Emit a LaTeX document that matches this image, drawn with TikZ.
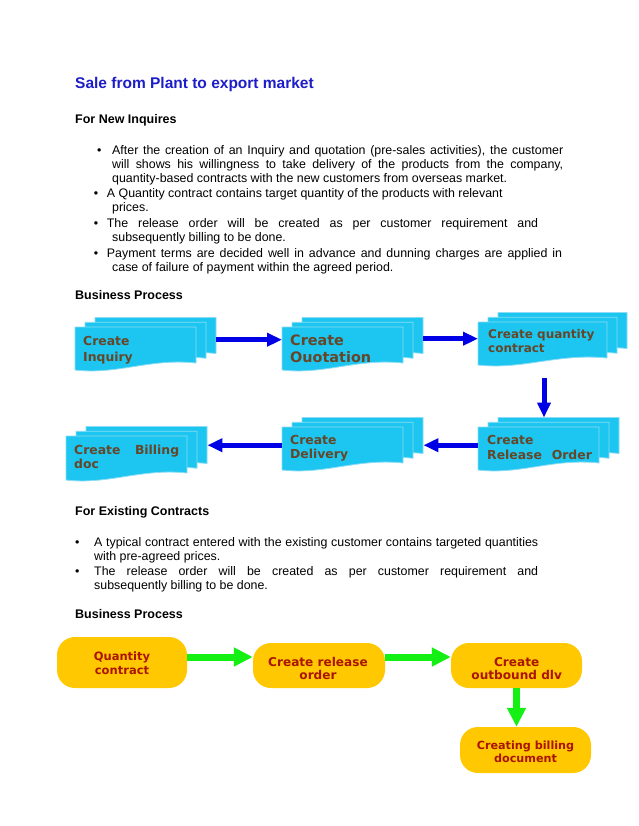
\documentclass[tikz,border=0pt]{standalone}
\usepackage{fontspec}
\setmainfont{Liberation Sans}
\newfontfamily\vfont{DejaVu Sans}
\usetikzlibrary{arrows.meta,calc}
\definecolor{docfill}{RGB}{28,198,240}
\definecolor{docedge}{RGB}{140,220,245}
\definecolor{doctext}{RGB}{102,70,40}
\definecolor{arrowblue}{RGB}{0,0,230}
\definecolor{titleblue}{RGB}{30,30,200}
\definecolor{gold}{RGB}{255,200,0}
\definecolor{darkred}{RGB}{170,20,0}
\definecolor{arrowgreen}{RGB}{20,240,20}
\tikzset{
 body/.style={anchor=mid west, inner sep=0pt, yshift=-2.5pt, font=\fontsize{12.4}{14.6}\selectfont},
 head/.style={anchor=mid west, inner sep=0pt, yshift=-2.5pt, font=\fontsize{12.5}{15}\selectfont\bfseries},
 bul/.style={anchor=mid, inner sep=0pt, yshift=-2.5pt, font=\fontsize{12.4}{14.6}\selectfont},
 doct/.style={anchor=mid west, inner sep=0pt, yshift=-2.5pt, text=doctext, font=\vfont\bfseries\fontsize{12.4}{15}\selectfont},
 docbox/.style={draw=none, inner sep=0pt, anchor=north west},
 barrow/.style={draw=arrowblue, line width=5pt, -{Triangle[length=15pt,width=13pt]}},
 garrow/.style={draw=arrowgreen, line width=7pt, -{Triangle[length=19pt,width=18pt]}},
 pill/.style={fill=gold, rounded corners=18pt, inner sep=0pt},
 pillt/.style={anchor=mid, inner sep=0pt, yshift=-2pt, text=darkred, font=\vfont\bfseries\fontsize{11.2}{13}\selectfont},
 pillbig/.style={pillt, font=\vfont\bfseries\fontsize{12.1}{14}\selectfont},
}
\newcommand\docshape[4]{%
 \filldraw[fill=docfill, draw=docedge, line width=0.8pt]
  (#1,#2) -- ({#1+#3},#2) -- ({#1+#3},{#2+#4})
  .. controls ({#1+0.62*#3},{#2+#4-5}) and ({#1+0.35*#3},{#2+#4+12}) .. (#1,{#2+#4+7}) -- cycle;}
\newcommand\docstack[5]{%
 \docshape{#2+20}{#3-9.5}{#4}{#5}
 \docshape{#2+10}{#3-4.75}{#4}{#5}
 \docshape{#2}{#3}{#4}{#5}
 \node[docbox, minimum width=#4pt, minimum height=#5pt] (#1b) at ({#2+20},{#3-9.5}) {};
 \node[docbox, minimum width=#4pt, minimum height=#5pt] (#1) at (#2,#3) {};
}
\begin{document}
\begin{tikzpicture}[x=1pt,y=-1pt]
\useasboundingbox (0,0) rectangle (638,826);
\fill[white] (0,0) rectangle (638,826);

% headings
\node[head, font=\fontsize{15.5}{18}\selectfont\bfseries, text=titleblue] (title) at (75,83.3) {Sale from Plant to export market};
\node[head] (h1) at (75,118.3) {For New Inquires};
\node[head] (bp1) at (75,294.3) {Business Process};
\node[head] (h2) at (75,510) {For Existing Contracts};
\node[head] (bp2) at (75,613.3) {Business Process};

% section 1 bullets
\node[bul] (d1) at (99.3,149.3) {\textbullet};
\node[body] (l1) at (112,149.3) {\makebox[451pt][s]{After the creation of an Inquiry and quotation (pre-sales activities), the customer}};
\node[body] (l2) at (112,163.3) {\makebox[451pt][s]{will shows his willingness to take delivery of the products from the company,}};
\node[body] (l3) at (112,177.3) {quantity-based contracts with the new customers from overseas market.};
\node[bul] (d2) at (96,192.7) {\textbullet};
\node[body] (l4) at (106.7,192.7) {A Quantity contract contains target quantity of the products with relevant};
\node[body] (l5) at (112,206.7) {prices.};
\node[bul] (d3) at (96,222.3) {\textbullet};
\node[body] (l6) at (106.7,222.3) {\makebox[431.3pt][s]{The release order will be created as per customer requirement and}};
\node[body] (l7) at (112,236) {subsequently billing to be done.};
\node[bul] (d4) at (96,252.3) {\textbullet};
\node[body] (l8) at (106.7,252.3) {\makebox[455.3pt][s]{Payment terms are decided well in advance and dunning charges are applied in}};
\node[body] (l9) at (112,266) {case of failure of payment within the agreed period.};

% section 2 bullets
\node[bul] (e1) at (77.3,541.7) {\textbullet};
\node[body] (m1) at (94,541.7) {\makebox[444pt][s]{A typical contract entered with the existing customer contains targeted quantities}};
\node[body] (m2) at (94,555) {with pre-agreed prices.};
\node[bul] (e2) at (77.3,570.7) {\textbullet};
\node[body] (m3) at (94,570.7) {\makebox[444pt][s]{The release order will be created as per customer requirement and}};
\node[body] (m4) at (94,584.3) {subsequently billing to be done.};

% document stacks
\docstack{B1}{75}{327}{121}{36}
\docstack{B2}{282}{327}{121}{36}
\docstack{B3}{478}{322}{129}{36}
\docstack{R}{478}{427}{121}{36}
\docstack{D}{282}{427}{121}{36}
\docstack{L}{66}{436}{121}{37}

\node[doct] (B1t1) at (83,340) {Create};
\begin{scope}
\clip (70,345) rectangle (200,364);
\node[doct] (B1t2) at (83,356) {Inquiry};
\end{scope}
\node[doct, font=\vfont\bfseries\fontsize{14.4}{17}\selectfont] (B2t1) at (290,340) {Create};
\node[doct, font=\vfont\bfseries\fontsize{14.4}{17}\selectfont] (B2t2) at (290,357) {Ouotation};
\node[doct, font=\vfont\bfseries\fontsize{12}{14}\selectfont] (B3t1) at (488,333) {Create quantity};
\node[doct, font=\vfont\bfseries\fontsize{12}{14}\selectfont] (B3t2) at (488,347) {contract};
\node[doct] (Rt1) at (487,439) {Create};
\node[doct] (Rt2) at (487,454) {\makebox[104.7pt][s]{Release Order}};
\node[doct] (Dt1) at (290,439) {Create};
\node[doct] (Dt2) at (290,453) {Delivery};
\node[doct] (Lt1) at (74,449) {\makebox[105pt][s]{Create Billing}};
\node[doct] (Lt2) at (74,463) {doc};

% blue arrows
\path ([yshift=-4pt]B1b.east) coordinate (a1);
\draw[barrow] (a1) -- (a1 -| B2.west);
\path ([yshift=-3pt]B2b.east) coordinate (a2);
\draw[barrow] (a2) -- (a2 -| B3.west);
\coordinate (a3) at (544,378);
\draw[barrow] (a3) -- (a3 |- Rb.north);
\draw[barrow] (R.west) -- (R.west -| Db.east);
\draw[barrow] (D.west) -- (D.west -| Lb.east);

% lower process
\node[pill, minimum width=130pt, minimum height=51pt] (Q) at (122,662.5) {};
\node[pill, minimum width=132pt, minimum height=45pt] (CR) at (319,665.5) {};
\node[pill, minimum width=131pt, minimum height=45pt] (CO) at (516.5,665.5) {};
\node[pill, minimum width=131pt, minimum height=46pt] (CB) at (525.5,750) {};
\node[pillt, font=\vfont\bfseries\fontsize{11.5}{13}\selectfont] (Qt1) at (122,656) {Quantity};
\node[pillt, font=\vfont\bfseries\fontsize{11.5}{13}\selectfont] (Qt2) at (122,670) {contract};
\node[pillbig] (CRt1) at (318,662) {Create release};
\node[pillbig] (COt1) at (516.7,662) {Create};
\begin{scope}
\clip (250,668) rectangle (590,680.5);
\node[pillbig] (CRt2) at (318,675) {order};
\node[pillbig] (COt2) at (516.7,675) {outbound dlv};
\end{scope}
\node[pillt] (CBt1) at (525.5,745) {Creating billing};
\node[pillt] (CBt2) at (525.5,758) {document};

% green arrows
\path ([yshift=5.5pt]Q.east) coordinate (g1);
\draw[garrow] (g1) -- (g1 -| CR.west);
\path ([yshift=8.5pt]CR.east) coordinate (g2);
\draw[garrow] (g2) -- (g2 -| CO.west);
\draw[garrow] (CO.south) -- (CO.south |- CB.north);
\end{tikzpicture}
\end{document}
